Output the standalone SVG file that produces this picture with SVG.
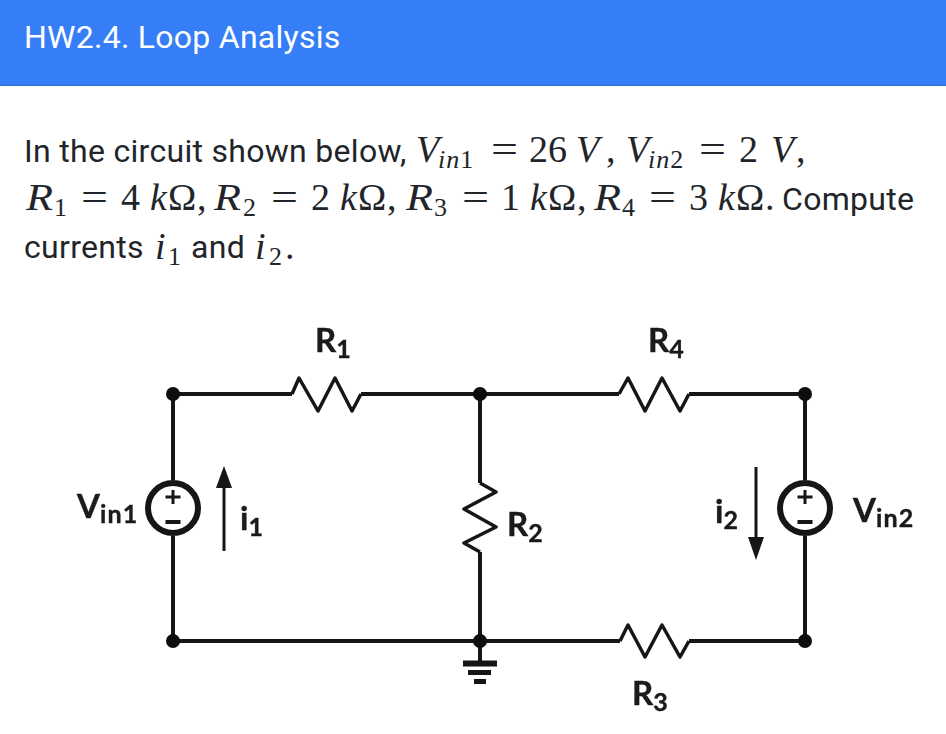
<svg xmlns="http://www.w3.org/2000/svg" width="946" height="734" viewBox="0 0 946 734">
<style>
.t{font-family:Roboto,"Liberation Sans",sans-serif;font-size:32px;fill:#212529;letter-spacing:.3px}
.h{font-family:Roboto,"Liberation Sans",sans-serif;font-size:32px;fill:#fff;letter-spacing:.26px}
.m{font-family:"Liberation Serif",serif;font-size:38px;fill:#212529}
.i{font-style:italic}
.s{font-size:26px}
.c{font-family:Lato,"Liberation Sans",sans-serif;font-weight:700;font-size:33px;fill:#1a1a1a;stroke:#1a1a1a;stroke-width:.4px}
.c2{font-size:25px}
.c3{font-size:25px;letter-spacing:1.2px}
.w{fill:none;stroke:#141414;stroke-width:4}
.z{fill:none;stroke:#141414;stroke-width:3.5;stroke-linejoin:round}
.a{fill:none;stroke:#141414;stroke-width:3}
.d{fill:#0c0c0c}
.b{fill:#141414}
.o{fill:#fff;stroke:#141414;stroke-width:6}
</style>
<defs>
<filter id="soft" x="-5%" y="-5%" width="110%" height="110%"><feGaussianBlur stdDeviation="0.5"/></filter>
<circle id="dot" r="7" class="d"/>
</defs>
<rect width="946" height="734" fill="#fff"/>
<rect id="header" width="946" height="85" fill="#357ef8"/>
<rect y="85" width="946" height="1" fill="#2f6fda"/>
<text class="h" x="24" y="48">HW2.4. Loop Analysis</text>
<g id="problem-text">
<text class="t" x="24" y="162">In the circuit shown below,</text>
<text class="m i" x="416" y="162">V</text><text class="m s" x="438" y="168" letter-spacing="1"><tspan class="i">in</tspan>1</text>
<text class="m" x="491" y="162" textLength="27" lengthAdjust="spacingAndGlyphs">=</text><text class="m" x="529" y="162">26</text>
<text class="m i" x="576" y="162">V</text><text class="m" x="606" y="162">,</text>
<text class="m i" x="626" y="162">V</text><text class="m s" x="648" y="168" letter-spacing="1"><tspan class="i">in</tspan>2</text>
<text class="m" x="699" y="162" textLength="27" lengthAdjust="spacingAndGlyphs">=</text><text class="m" x="739" y="162">2</text>
<text class="m i" x="771" y="162">V</text><text class="m" x="796" y="162">,</text>

<text class="m i" x="26" y="210" textLength="27" lengthAdjust="spacingAndGlyphs">R</text><text class="m s" x="54" y="216">1</text>
<text class="m" x="81" y="210" textLength="27" lengthAdjust="spacingAndGlyphs">=</text><text class="m" x="121" y="210">4</text>
<text class="m i" x="150" y="210">k</text><text class="m" x="168" y="210">Ω</text><text class="m" x="197" y="210">,</text>
<text class="m i" x="214" y="210" textLength="27" lengthAdjust="spacingAndGlyphs">R</text><text class="m s" x="243" y="216">2</text>
<text class="m" x="271" y="210" textLength="27" lengthAdjust="spacingAndGlyphs">=</text><text class="m" x="311" y="210">2</text>
<text class="m i" x="340" y="210">k</text><text class="m" x="358" y="210">Ω</text><text class="m" x="387" y="210">,</text>
<text class="m i" x="406" y="210" textLength="27" lengthAdjust="spacingAndGlyphs">R</text><text class="m s" x="434" y="216">3</text>
<text class="m" x="462" y="210" textLength="27" lengthAdjust="spacingAndGlyphs">=</text><text class="m" x="501" y="210">1</text>
<text class="m i" x="530" y="210">k</text><text class="m" x="548" y="210">Ω</text><text class="m" x="577" y="210">,</text>
<text class="m i" x="594" y="210" textLength="27" lengthAdjust="spacingAndGlyphs">R</text><text class="m s" x="622" y="216">4</text>
<text class="m" x="649" y="210" textLength="27" lengthAdjust="spacingAndGlyphs">=</text><text class="m" x="689" y="210">3</text>
<text class="m i" x="718" y="210">k</text><text class="m" x="736" y="210">Ω</text><text class="m" x="765" y="210">.</text>
<text class="t" x="782" y="210">Compute</text>

<text class="t" x="24" y="258">currents</text>
<text class="m i" x="155" y="259">i</text><text class="m s" x="168" y="265">1</text>
<text class="t" x="191" y="258">and</text>
<text class="m i" x="255" y="259">i</text><text class="m s" x="269" y="265">2</text>
<text class="m" x="285" y="259">.</text>
</g>
<g id="circuit" filter="url(#soft)">
<g id="connectors">
<path class="w" d="M173 394H292M361 394H619M689 394H805V480M173 394V480M173 536V641H620M689 641H805V536M480 394V483M480 552V662"/>
</g>
<g id="R1"><path class="z" d="M292 394L299 378L318 411L335 378L352 411L361 394"/><text class="c" x="315" y="352">R<tspan class="c2" dy="6">1</tspan></text></g>
<g id="R4"><path class="z" d="M619 394L628 378L645 411L662 378L680 411L689 394"/><text class="c" x="648" y="352">R<tspan class="c2" dy="6">4</tspan></text></g>
<g id="R3"><path class="z" d="M620 641L628 625L645 657L662 625L680 657L689 641"/><text class="c" x="632" y="705">R<tspan class="c2" dy="6">3</tspan></text></g>
<g id="R2"><path class="z" d="M480 483L496 492L464 509L496 527L464 543L480 552"/><text class="c" x="507" y="536">R<tspan class="c2" dy="6">2</tspan></text></g>
<g id="Vin1"><circle cx="173" cy="508" r="25" class="o"/>
<path class="b" d="M171.500 490H174.500V495.500H180.500V498.500H174.500V504H171.500V498.500H165.500V495.500H171.500ZM165.500 520H180.500V524H165.500Z"/>
<text class="c" x="77" y="518">V<tspan class="c3" dy="5">in1</tspan></text></g>
<g id="Vin2"><circle cx="805" cy="508" r="25" class="o"/>
<path class="b" d="M803.500 490H806.500V495.500H812.500V498.500H806.500V504H803.500V498.500H797.500V495.500H803.500ZM797.500 520H812.500V524H797.500Z"/>
<text class="c" x="853" y="522">V<tspan class="c3" dy="5">in2</tspan></text></g>
<g id="i1"><path class="a" d="M224 551V486"/><path class="b" d="M224 466L232 488H216Z"/><text class="c" x="240" y="530">i<tspan class="c2" dy="6">1</tspan></text></g>
<g id="i2"><path class="a" d="M756 467V540"/><path class="b" d="M756 560L764 537H748Z"/><text class="c" x="715" y="523">i<tspan class="c2" dy="6">2</tspan></text></g>
<g id="ground"><rect x="463" y="660.500" width="34" height="6" class="b"/><rect x="468" y="670" width="23" height="5" class="b"/><rect x="474" y="679" width="12" height="5" class="b"/></g>
<g id="nodes"><use href="#dot" x="173" y="394"/><use href="#dot" x="480" y="394"/><use href="#dot" x="805" y="394"/><use href="#dot" x="173" y="641"/><use href="#dot" x="480" y="641"/><use href="#dot" x="805" y="641"/></g>
</g>
</svg>
